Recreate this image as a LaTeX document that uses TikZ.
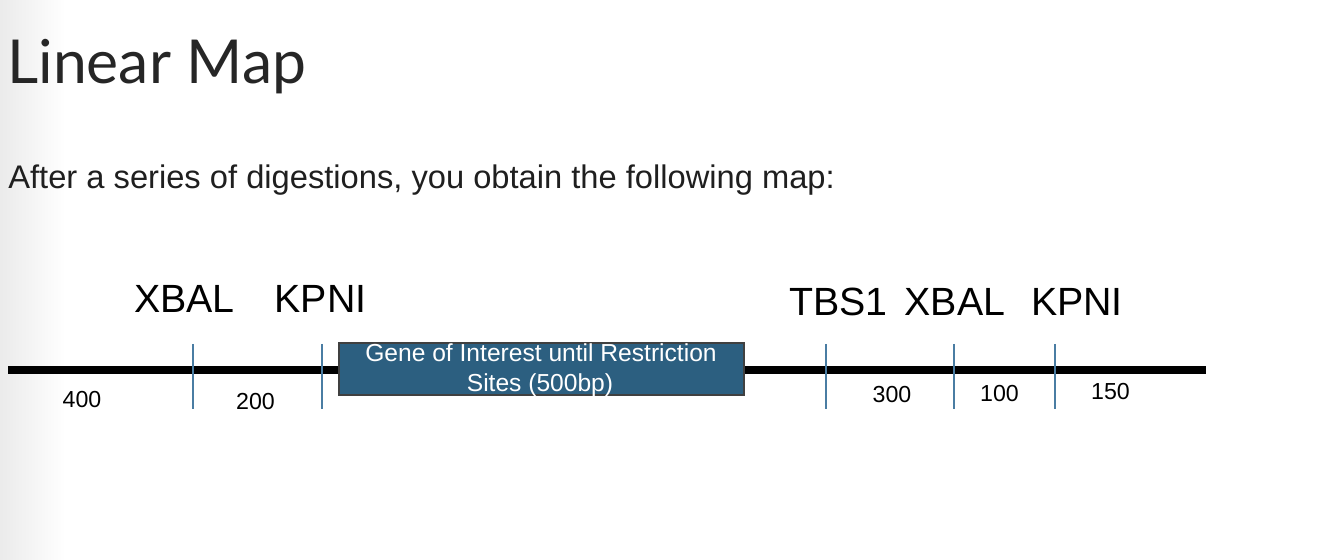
\documentclass[tikz,border=0pt]{standalone}
\usepackage{fontspec}
\setmainfont{Liberation Sans}
\newfontfamily\titlefont{Lato}
\usepackage{xcolor}
\usepackage{tikz}
\usetikzlibrary{positioning}
\definecolor{genefill}{HTML}{2C5F80}
\definecolor{sitecol}{HTML}{4A7DA3}
\newcommand{\sitelabel}{\fontsize{22.4}{24}\selectfont}
\newcommand{\sizelabel}{\fontsize{13.2}{15}\selectfont}

\begin{document}
\begin{tikzpicture}[x=0.02cm, y=-0.02cm,
  site/.style={draw=sitecol, line width=1.1pt},
  enzyme/.style={anchor=base, font=\sitelabel},
  fragment/.style={anchor=base, font=\sizelabel},
  genebox/.style={draw=black!75, line width=0.8pt, fill=genefill,
    minimum width=8.1cm, minimum height=1.04cm, inner sep=0pt},
  genetext/.style={anchor=base, text=white, font=\fontsize{14}{16}\selectfont}
]
\useasboundingbox (0,0) rectangle (1342,560);

% Page shadow
\shade[left color=black!8, right color=white] (0,0) rectangle (65,560);

% Heading
\node[anchor=base west, inner sep=0pt, text=black!85,
  font=\titlefont\fontsize{34.5}{40}\selectfont] (title) at (7,84) {Linear Map};
\node[anchor=base west, inner sep=0pt, text=black!88,
  font=\fontsize{18.6}{22}\selectfont] (intro) at (8,189)
  {After a series of digestions, you obtain the following map:};

% DNA
\coordinate (dna-start) at (8,370);
\coordinate (dna-end) at (1206,370);
\draw[line width=4.4pt] (dna-start) -- (dna-end);

% Gene of interest
\node[genebox] (gene) at (541.5,369) {};
\node[genetext] (gene-1) at (541,362) {Gene of Interest until Restriction};
\node[genetext] (gene-2) at (540,392) {Sites (500bp)};

% Restriction sites
\foreach \x in {193,322,826,954,1055}
{
  \draw[site] (\x,344) -- (\x,409);
}

% Enzymes
\node[enzyme] (xbal-1) at (184.5,313) {XBAL};
\node[enzyme] (kpni-1) at (320.5,313) {KPNI};
\node[enzyme] (tbs1) at (838.5,316) {TBS1};
\node[enzyme] (xbal-2) at (955,316) {XBAL};
\node[enzyme] (kpni-2) at (1077,316) {KPNI};

% Fragment sizes
\node[fragment] (frag-400) at (82,407) {400};
\node[fragment] (frag-200) at (255.5,410) {200};
\node[fragment] (frag-300) at (892,402) {300};
\node[fragment] (frag-100) at (999.5,401) {100};
\node[fragment] (frag-150) at (1110.5,399) {150};

\end{tikzpicture}
\end{document}
